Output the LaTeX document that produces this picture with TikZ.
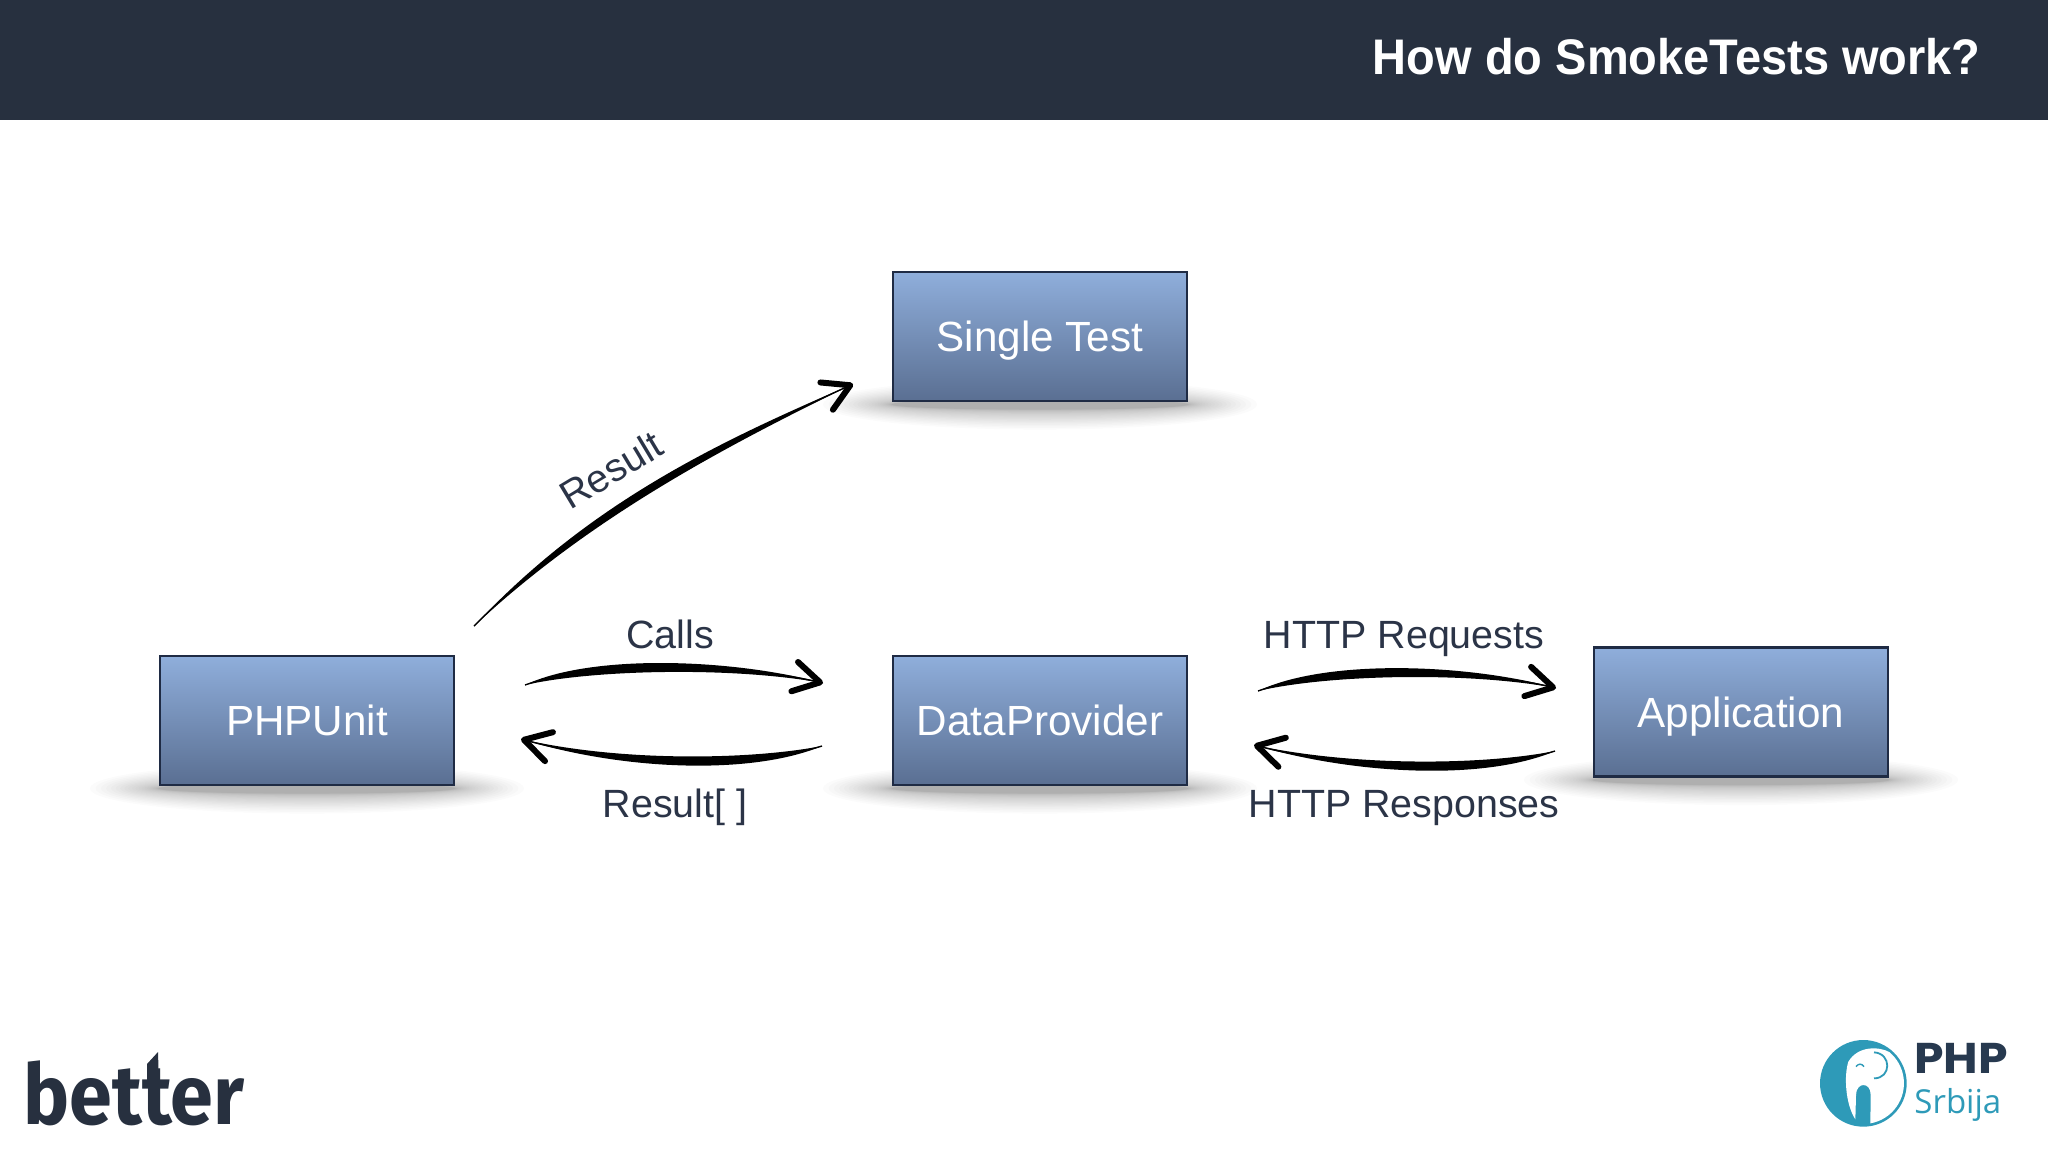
\documentclass[tikz,border=0pt]{standalone}
\usepackage{fontspec}
\setmainfont{Liberation Sans}
\newfontfamily\titlefont[FakeStretch=0.94]{Liberation Sans}
\newfontfamily\betterfont[FakeStretch=0.92]{Fira Sans}
\newfontfamily\phpfont[FakeStretch=1.1]{Poppins}
\newfontfamily\srbijafont{Open Sans}
\usetikzlibrary{arrows.meta, calc, backgrounds}

\definecolor{headerbg}{HTML}{27303F}
\definecolor{labelink}{HTML}{2B3447}
\definecolor{boxedge}{HTML}{1F2B44}
\definecolor{boxtop}{HTML}{8FAEDB}
\definecolor{boxbottom}{HTML}{5A6F92}
\definecolor{phpteal}{HTML}{2E9AB8}
\definecolor{phpdark}{HTML}{27394F}

\tikzset{
  blockbox/.style={draw=boxedge, line width=1.4pt, top color=boxtop, bottom color=boxbottom, minimum width=147pt, minimum height=64.5pt, inner sep=0pt, text=white, text height=15pt, text depth=0pt, font=\fontsize{21.1}{24}\selectfont},
  edgelabel/.style={text=labelink, inner sep=0pt, text height=14pt, text depth=0pt, font=\fontsize{19.7}{24}\selectfont},
  brushink/.style={fill=black},
  brushline/.style={draw=black, line width=0.7pt, -{Straight Barb[length=13pt, width=15pt, line width=3pt, round]}}
}

% start, control, control, end, half width
\newcommand{\brusharrow}[5]{
  \fill[brushink] (#1) .. controls ($(#2)+(0,-#5)$) and ($(#3)+(0,-#5*0.5)$) .. (#4) .. controls ($(#3)+(0,#5*0.5)$) and ($(#2)+(0,#5)$) .. (#1) -- cycle;
  \draw[brushline] (#1) .. controls (#2) and (#3) .. (#4);
}

\begin{document}
\begin{tikzpicture}[x=0.5pt, y=-0.5pt]
\useasboundingbox (0,0) rectangle (2048,1152);

% Header
\fill[headerbg] (0,0) rectangle (2048,120);
\node[text=white, anchor=east, inner sep=0pt, font=\titlefont\bfseries\fontsize{25}{28}\selectfont] (title) at (1981,57) {How do SmokeTests work?};

% Boxes
\node[blockbox] (singletest) at (1040,336.5) {Single Test};
\node[blockbox] (phpunit) at (307,720.5) {PHPUnit};
\node[blockbox] (dataprovider) at (1040,720.5) {DataProvider};
\node[blockbox] (application) at (1741,712) {Application};

% Soft shadows under the boxes
\begin{scope}[on background layer]
\foreach \n in {singletest, phpunit, dataprovider, application}
  \foreach \r in {1,...,24}
    \fill[black, opacity=0.014] ($(\n.south)+(0,2)$) ellipse ({148+\r*\r*0.12} and {5+\r*\r*0.035});
\end{scope}

% Result to the single test
\coordinate (resultstart) at (474,626);
\coordinate (resultcone) at (590,510);
\coordinate (resultctwo) at (720,445);
\coordinate (resultend) at (853,384);
\brusharrow{resultstart}{resultcone}{resultctwo}{resultend}{8}
\node[edgelabel, rotate=31] (resultlabel) at (611,470) {Result};

% Calls and Result[ ]
\coordinate (callsstart) at (525,685);
\coordinate (callscone) at (590,662);
\coordinate (callsctwo) at (730,662);
\coordinate (callsend) at (823,683);
\brusharrow{callsstart}{callscone}{callsctwo}{callsend}{8}
\node[edgelabel] (callslabel) at (670,634) {Calls};

\coordinate (arraystart) at (822,746);
\coordinate (arraycone) at (750,768);
\coordinate (arrayctwo) at (620,766);
\coordinate (arrayend) at (521,739);
\brusharrow{arraystart}{arraycone}{arrayctwo}{arrayend}{8}
\node[edgelabel] (arraylabel) at (675,803) {Result[ ]};

% HTTP
\coordinate (requeststart) at (1258,691);
\coordinate (requestcone) at (1325,667);
\coordinate (requestctwo) at (1465,667);
\coordinate (requestend) at (1556,688);
\brusharrow{requeststart}{requestcone}{requestctwo}{requestend}{8}
\node[edgelabel] (requestlabel) at (1404,634) {HTTP Requests};

\coordinate (responsestart) at (1555,751);
\coordinate (responsecone) at (1485,773);
\coordinate (responsectwo) at (1355,771);
\coordinate (responseend) at (1254,745);
\brusharrow{responsestart}{responsecone}{responsectwo}{responseend}{8}
\node[edgelabel] (responselabel) at (1404,803) {HTTP Responses};

% better logo
\node[text=headerbg, anchor=base west, inner sep=0pt, font=\betterfont\bfseries\fontsize{42}{48}\selectfont] (better) at (23,1124) {better};
\fill[headerbg] (147,1064) -- (158,1052) -- (159,1085) -- (147,1085) -- cycle;

% PHP Srbija logo
\begin{scope}[shift={(1780,1020)}, scale=1/3]
\fill[phpteal] (250,190) circle (130);
\fill[white] (271,310) arc (80:-50:122) .. controls (300,80) and (235,75) .. (205,125) .. controls (192,165) and (195,250) .. (226,298) -- (228,225) .. controls (228,205) and (240,195) .. (250,195) .. controls (262,195) and (272,205) .. (272,225) -- cycle;
\draw[phpteal, line width=0.9pt] (282,97) .. controls (335,100) and (335,175) .. (282,175);
\draw[phpteal, line width=0.7pt] (228,140) .. controls (235,130) and (245,130) .. (252,140);
\end{scope}
\node[text=phpdark, anchor=base west, inner sep=0pt, font=\phpfont\bfseries\fontsize{21.5}{24}\selectfont] (phptext) at (1914,1073) {PHP};
\node[text=phpteal, anchor=base west, inner sep=0pt, font=\srbijafont\fontsize{16.5}{20}\selectfont] (srbijatext) at (1914,1113) {Srbija};

\end{tikzpicture}
\end{document}
